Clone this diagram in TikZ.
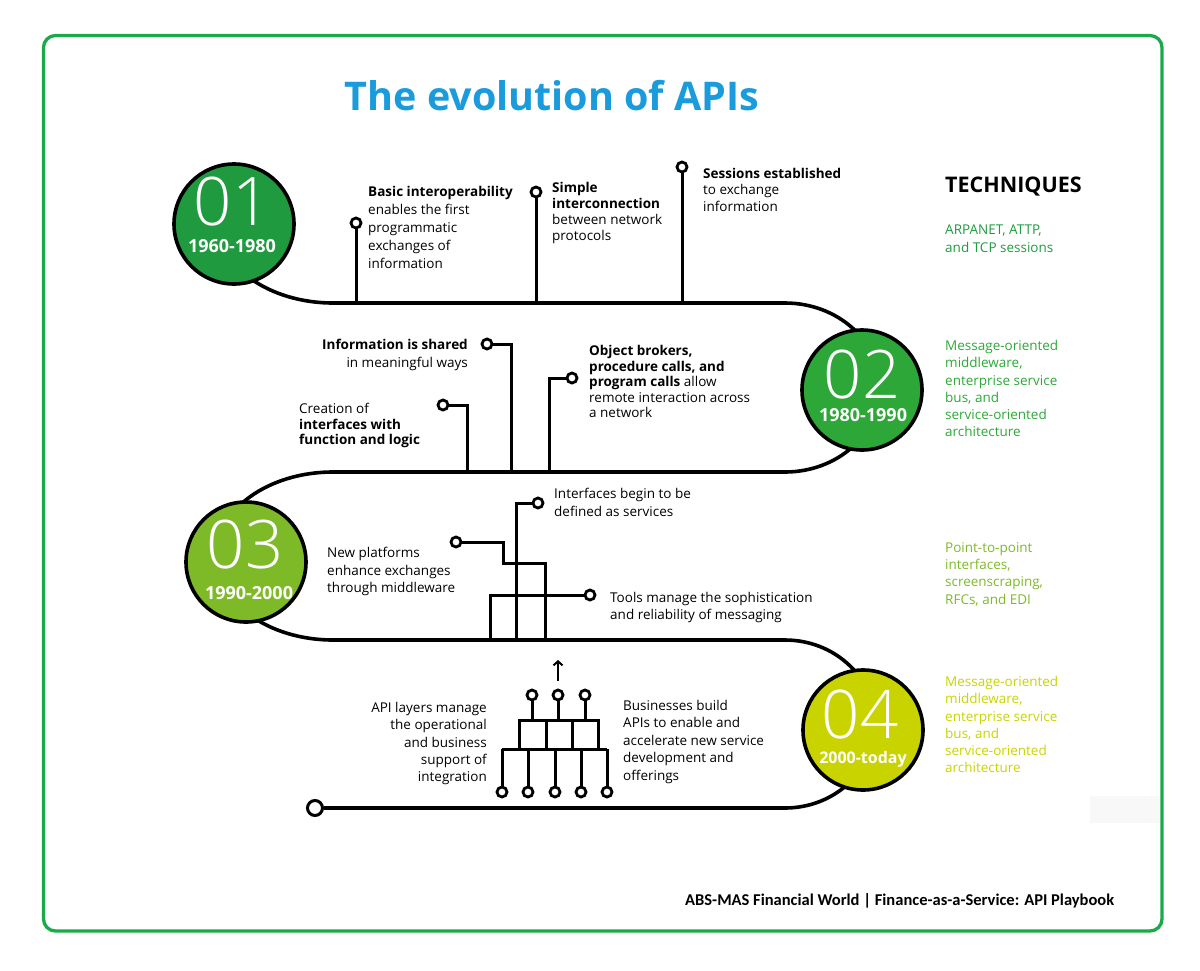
\documentclass[tikz,border=0pt]{standalone}
\usepackage{fontspec}
\setmainfont{Open Sans}
\IfFontExistsTF{Open Sans Light}{\newfontfamily\eranumfont{Open Sans Light}}{\newfontfamily\eranumfont{Open Sans}}
\newfontfamily\creditfont{Carlito}
\usetikzlibrary{arrows.meta}
\definecolor{FrameClr}{HTML}{1BAA4A}
\definecolor{TitleClr}{HTML}{1A9BDB}
\definecolor{EraOneClr}{HTML}{1F9A3E}
\definecolor{EraTwoClr}{HTML}{2CA738}
\definecolor{EraThreeClr}{HTML}{7EB927}
\definecolor{EraFourClr}{HTML}{C9D300}
\definecolor{SmudgeClr}{HTML}{F8F8F8}

\tikzset{
  road/.style={line width=3.6pt},
  stem/.style={line width=3pt},
  pin/.style={circle,draw,fill=white,line width=2.8pt,minimum size=10pt,inner sep=0pt},
  endpin/.style={pin,line width=3pt,minimum size=15pt},
  era/.style={circle,draw,line width=3.6pt,minimum size=120pt,inner sep=0pt},
  eranum/.style={text=white,anchor=base,inner sep=0pt,font=\eranumfont\fontsize{67}{67}\selectfont},
  erayear/.style={text=white,anchor=base,inner sep=0pt,font=\bfseries\fontsize{#1}{18}\selectfont},
  erayear/.default=18,
  note/.style={inner sep=0pt,anchor=north west,align=left,font=\fontsize{13.5}{#1}\selectfont},
  note/.default=18,
  tech/.style={inner sep=0pt,anchor=north west,align=left,text=#1,font=\fontsize{13.5}{17.3}\selectfont}
}

\begin{document}
\begin{tikzpicture}[x=1pt,y=-1pt]
\useasboundingbox (0,0) rectangle (1200,970);

\draw[FrameClr,line width=3.3pt,rounded corners=12pt] (43.5,35.5) rectangle (1162,931);
\fill[SmudgeClr] (1090,796) rectangle (1160,823);

\node[font=\bfseries\fontsize{39.5}{40}\selectfont,text=TitleClr,anchor=base,inner sep=0pt] (title) at (552,110) {The evolution of APIs};

\coordinate (r1b) at (785,303);
\coordinate (r2a) at (333,472);
\coordinate (r3b) at (785,640);
\node[endpin] (fin) at (315,808) {};
\draw[road] (216,219) arc[start angle=180,end angle=90,x radius=117,y radius=84]
  -- (r1b) arc[start angle=-90,end angle=90,x radius=95,y radius=84.5]
  -- (r2a) arc[start angle=-90,end angle=-270,x radius=117,y radius=84]
  -- (r3b) arc[start angle=-90,end angle=90,x radius=90,y radius=84]
  -- (fin);

\node[era,fill=EraOneClr] (c1) at (234,224) {};
\node[era,fill=EraTwoClr] (c2) at (862,390) {};
\node[era,fill=EraThreeClr] (c3) at (246,562) {};
\node[era,fill=EraFourClr] (c4) at (863,730) {};
\node[eranum] (n1) at (232,225) {01};
\node[erayear] (y1) at (232,252) {1960-1980};
\node[eranum] (n2) at (862,398) {02};
\node[erayear] (y2) at (863,421) {1980-1990};
\node[eranum] (n3) at (245,568) {03};
\node[erayear] (y3) at (249,599) {1990-2000};
\node[eranum] (n4) at (860,738) {04};
\node[erayear=16] (y4) at (863,763) {2000-today};

\node[pin] (p1) at (356,223) {};
\node[pin] (p2) at (536,192) {};
\node[pin] (p3) at (682,167) {};
\coordinate (s1) at (356,303);
\coordinate (s2) at (536,303);
\coordinate (s3) at (682,303);
\draw[stem] (s1) -- (p1);
\draw[stem] (s2) -- (p2);
\draw[stem] (s3) -- (p3);

\node[pin] (p4) at (443,405) {};
\node[pin] (p5) at (487,344) {};
\node[pin] (p6) at (572,378) {};
\coordinate (s4) at (467,472);
\coordinate (s5) at (511,472);
\coordinate (s6) at (549,472);
\draw[stem] (s4) |- (p4);
\draw[stem] (s5) |- (p5);
\draw[stem] (s6) |- (p6);

\node[pin] (p7) at (590,595) {};
\node[pin] (p8) at (538,503) {};
\node[pin] (p9) at (456,542) {};
\coordinate (s7) at (490,640);
\coordinate (s8) at (516,640);
\coordinate (s9) at (545,640);
\coordinate (k9) at (503,563);
\draw[stem] (s7) |- (p7);
\draw[stem] (s8) |- (p8);
\draw[stem] (s9) |- (k9) |- (p9);

\node[pin] (t1) at (532,695) {};
\node[pin] (t2) at (558,695) {};
\node[pin] (t3) at (585,695) {};
\node[pin] (b1) at (502,792) {};
\node[pin] (b2) at (528,792) {};
\node[pin] (b3) at (555,792) {};
\node[pin] (b4) at (581,792) {};
\node[pin] (b5) at (607,792) {};
\coordinate (bx1) at (519,720);
\coordinate (bx2) at (598,749);
\draw[stem] (bx1) rectangle (bx2);
\draw[stem] (546,720) -- (546,749);
\draw[stem] (572,720) -- (572,749);
\draw[stem] (t1) -- (t1 |- bx1);
\draw[stem] (t2) -- (t2 |- bx1);
\draw[stem] (t3) -- (t3 |- bx1);
\draw[stem] (b1 |- bx2) -- (b5 |- bx2);
\draw[stem] (b1) -- (b1 |- bx2);
\draw[stem] (b2) -- (b2 |- bx2);
\draw[stem] (b3) -- (b3 |- bx2);
\draw[stem] (b4) -- (b4 |- bx2);
\draw[stem] (b5) -- (b5 |- bx2);
\coordinate (up0) at (558,681);
\coordinate (up1) at (558,660);
\draw[line width=2pt,-{Straight Barb[length=4pt,width=9pt]}] (up0) -- (up1);

\node[note] (tx1) at (368,186) {\textbf{Basic interoperability}\\enables the first\\programmatic\\exchanges of\\information};
\node[note=16] (tx2) at (552,182) {\textbf{Simple}\\\textbf{interconnection}\\between network\\protocols};
\node[note=16.5] (tx3) at (703,168) {\textbf{Sessions established}\\to exchange\\information};
\node[note,anchor=north east,align=right] (tx4) at (468,339) {\textbf{Information is shared}\\in meaningful ways};
\node[note=15.6] (tx5) at (299,403) {Creation of\\\textbf{interfaces with}\\\textbf{function and logic}};
\node[note=15.6] (tx6) at (589,345) {\textbf{Object brokers,}\\\textbf{procedure calls, and}\\\textbf{program calls} allow\\remote interaction across\\a network};
\node[note] (tx7) at (554,488) {Interfaces begin to be\\defined as services};
\node[note=17.5] (tx8) at (327,547) {New platforms\\enhance exchanges\\through middleware};
\node[note=17.5] (tx9) at (610,592) {Tools manage the sophistication\\and reliability of messaging};
\node[note=17.3,anchor=north east,align=right] (tx10) at (487,702) {API layers manage\\the operational\\and business\\support of\\integration};
\node[note=17.5] (tx11) at (623,700) {Businesses build\\APIs to enable and\\accelerate new service\\development and\\offerings};

\node[inner sep=0pt,anchor=north west,font=\bfseries\fontsize{21.5}{24}\selectfont] (tq0) at (945,176.5) {TECHNIQUES};
\node[tech=EraOneClr] (tq1) at (945,225) {ARPANET, ATTP,\\and TCP sessions};
\node[tech=EraTwoClr] (tq2) at (945,340) {Message-oriented\\middleware,\\enterprise service\\bus, and\\service-oriented\\architecture};
\node[tech=EraThreeClr] (tq3) at (945,542) {Point-to-point\\interfaces,\\screenscraping,\\RFCs, and EDI};
\node[tech=EraFourClr] (tq4) at (945,676) {Message-oriented\\middleware,\\enterprise service\\bus, and\\service-oriented\\architecture};

\node[font=\creditfont\bfseries\fontsize{16.5}{16.5}\selectfont,anchor=base west,inner sep=0pt] (credit) at (685,905) {ABS-MAS Financial World | Finance-as-a-Service: API Playbook};

\end{tikzpicture}
\end{document}
